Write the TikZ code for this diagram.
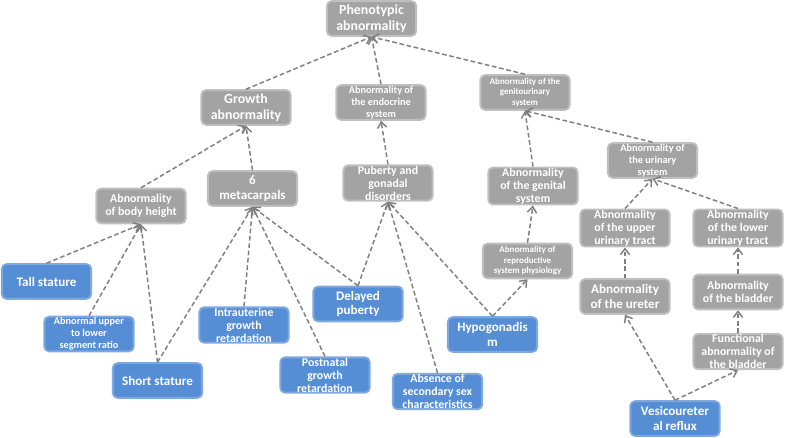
\documentclass[tikz,border=0pt]{standalone}
\usepackage{fontspec}
\setmainfont{Carlito}
\usetikzlibrary{arrows.meta}

\begin{document}
\begin{tikzpicture}[x=0.75pt,y=-0.75pt,
  term/.style={rounded corners=3.5pt,line width=1.4pt,minimum width=67pt,minimum height=26pt,
    inner sep=0.3pt,align=center,text=white},
  gterm/.style={term,fill=g0,draw=g1},
  bterm/.style={term,fill=b0,draw=b1},
  f0/.style={font=\fontsize{10.4}{11.8}\selectfont\bfseries},
  f1/.style={font=\fontsize{9.8}{11}\selectfont\bfseries},
  f2/.style={font=\fontsize{8.9}{9.8}\selectfont\bfseries},
  f3/.style={font=\fontsize{7.7}{8.8}\selectfont\bfseries},
  f4/.style={font=\fontsize{6.7}{7.8}\selectfont\bfseries},
  link/.style={draw=a0,dashed,dash pattern=on 3.5pt off 2pt,line width=1.1pt,
    -{Straight Barb[length=4.5pt,width=7pt]}}]
\definecolor{g0}{HTML}{A3A3A3}
\definecolor{g1}{HTML}{BFBFBF}
\definecolor{b0}{HTML}{558ED5}
\definecolor{b1}{HTML}{7FA8E0}
\definecolor{a0}{HTML}{7F7F7F}
\useasboundingbox (0,0) rectangle (785,438);

% gray terms
\node[gterm,f0] (pheno)   at (371.5,18.5) {Phenotypic\\abnormality};
\node[gterm,f0] (growth)  at (246,107.5)  {Growth\\abnormality};
\node[gterm,f3] (endo)    at (381,102.5)  {Abnormality of\\the endocrine\\system};
\node[gterm,f4] (genuri)  at (525,92.5)   {Abnormality of the\\genitourinary\\system};
\node[gterm,f2] (height)  at (141,206)    {Abnormality\\of body height};
\node[gterm,f1] (meta)    at (252.5,188.5) {6\\metacarpals};
\node[gterm,f2] (puberty) at (388,183)    {Puberty and\\gonadal\\disorders};
\node[gterm,f2] (genital) at (533,186)    {Abnormality\\of the genital\\system};
\node[gterm,f3] (urinary) at (652.5,160.5) {Abnormality of\\the urinary\\system};
\node[gterm,f2] (upper)   at (625,228)    {Abnormality\\of the upper\\urinary tract};
\node[gterm,f2] (lower)   at (738,228)    {Abnormality\\of the lower\\urinary tract};
\node[gterm,f4] (repro)   at (527.5,261)  {Abnormality of\\reproductive\\system physiology};
\node[gterm,f1] (ureter)  at (625,296.5)  {Abnormality\\of the ureter};
\node[gterm,f2] (bladder) at (738,292)    {Abnormality\\of the bladder};
\node[gterm,f2] (funcbl)  at (738,351.5)  {Functional\\abnormality of\\the bladder};

% blue terms
\node[bterm,f1] (tall)      at (46.5,281.5) {Tall stature};
\node[bterm,f3] (ratio)     at (89,334)     {Abnormal upper\\to lower\\segment ratio};
\node[bterm,f1] (short)     at (157.5,380.5) {Short stature};
\node[bterm,f2] (iugr)      at (244,325)    {Intrauterine\\growth\\retardation};
\node[bterm,f2] (postnatal) at (325,375)    {Postnatal\\growth\\retardation};
\node[bterm,f1] (delayed)   at (358,304)    {Delayed\\puberty};
\node[bterm,f1] (hypo)      at (492.5,334.5) {Hypogonadis\\m};
\node[bterm,f2] (absence)   at (437.5,391.5) {Absence of\\secondary sex\\characteristics};
\node[bterm,f1] (vur)       at (675,418.5)  {Vesicoureter\\al reflux};

% is-a links
\foreach \a/\b in {growth/pheno,endo/pheno,genuri/pheno,height/growth,meta/growth,
  puberty/endo,genital/genuri,urinary/genuri,upper/urinary,lower/urinary,repro/genital,
  ureter/upper,bladder/lower,funcbl/bladder,tall/height,ratio/height,short/height,
  short/meta,iugr/meta,postnatal/meta,delayed/meta,delayed/puberty,absence/puberty,
  hypo/puberty,hypo/repro,vur/ureter,vur/funcbl} {
  \draw[link] (\a.north) -- (\b.south);
}
\end{tikzpicture}
\end{document}
